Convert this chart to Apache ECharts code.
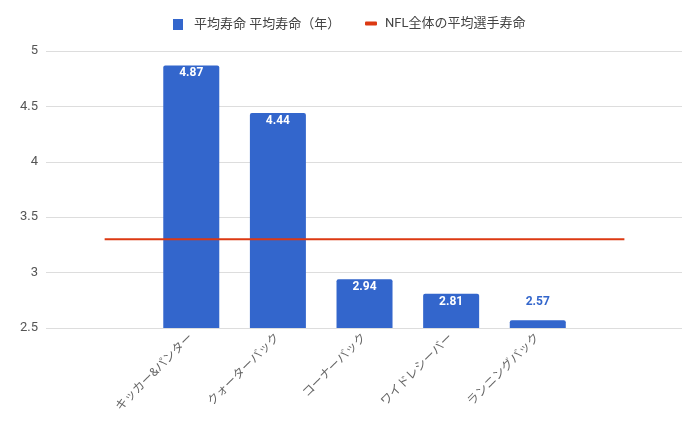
<!DOCTYPE html>
<html>
<head>
<meta charset="utf-8">
<script src="https://cdn.jsdelivr.net/npm/echarts@6/dist/echarts.min.js"></script>
<style>
html,body{margin:0;padding:0;background:#fff;}
#chart{width:700px;height:423px;}
</style>
</head>
<body>
<div id="chart"></div>
<script>
// ---- data ----
const categories = ['キッカー&パンター', 'クォーターバック', 'コーナーバック', 'ワイドレシーバー', 'ランニングバック'];
const careerYears = [4.87, 4.44, 2.94, 2.81, 2.57];
const nflAverage = 3.3;
const yTicks = [2.5, 3, 3.5, 4, 4.5, 5];
const barSeriesName = '平均寿命 平均寿命（年）';
const lineSeriesName = 'NFL全体の平均選手寿命';

const FONT = 'Roboto, "Noto Sans CJK JP", sans-serif';
const BLUE = '#3366cc';
const RED = '#dc3912';
const yMin = yTicks[0], yMax = yTicks[yTicks.length - 1];

const catIdx = categories.map((c, i) => i);
const barData = careerYears.map((v, i) => {
  const small = (v - yMin) < 0.15;
  return {
    value: [i, v],
    label: small
      ? { position: 'top', color: BLUE, distance: 12 }
      : { position: 'insideTop', color: '#fff', distance: 2 }
  };
});
const lineData = [[-1, nflAverage], [categories.length, nflAverage]];

const chart = echarts.init(document.getElementById('chart'), null, { renderer: 'canvas' });
chart.setOption({
  animation: false,
  textStyle: { fontFamily: FONT },
  legend: [
    {
      data: [barSeriesName],
      left: 168, top: 13,
      icon: 'rect', itemWidth: 10, itemHeight: 11,
      textStyle: { fontSize: 13, color: '#444', fontFamily: FONT, padding: [0, 0, 0, 6] }
    },
    {
      data: [lineSeriesName],
      left: 360, top: 12,
      icon: 'roundRect', itemWidth: 12, itemHeight: 4,
      textStyle: { fontSize: 13, color: '#444', fontFamily: FONT, padding: [0, 0, 0, 3] }
    }
  ],
  grid: { left: 46, right: 18, top: 51, bottom: 95, containLabel: false },
  xAxis: {
    type: 'value',
    min: -1.677, max: 5.665,
    axisLine: { show: false },
    axisTick: { show: false },
    splitLine: { show: false },
    axisLabel: {
      customValues: catIdx,
      formatter: v => categories[Math.round(v)] ?? '',
      rotate: 45,
      margin: 8,
      fontSize: 12,
      color: '#666',
      fontFamily: FONT
    }
  },
  yAxis: {
    type: 'value',
    min: yMin, max: yMax, interval: 0.5,
    axisLine: { show: false },
    axisTick: { show: false },
    splitLine: { lineStyle: { color: '#dddddd', width: 1 } },
    axisLabel: { fontSize: 13, color: '#555', margin: 8, fontFamily: FONT }
  },
  series: [
    {
      name: barSeriesName,
      type: 'bar',
      data: barData,
      barWidth: 56,
      itemStyle: { color: BLUE, borderRadius: [2, 2, 0, 0] },
      label: { show: true, fontSize: 12, fontWeight: 'bold', fontFamily: FONT, formatter: p => p.value[1] }
    },
    {
      name: lineSeriesName,
      type: 'line',
      data: lineData,
      symbol: 'none',
      lineStyle: { color: RED, width: 2 },
      itemStyle: { color: RED },
      z: 5
    }
  ]
});
</script>
</body>
</html>
